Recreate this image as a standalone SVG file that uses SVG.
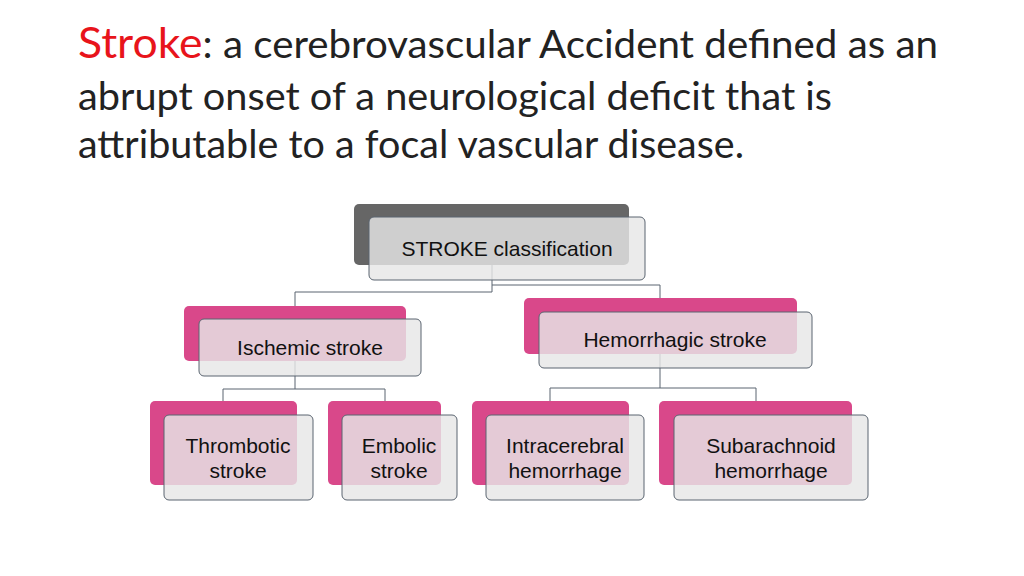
<svg xmlns="http://www.w3.org/2000/svg" width="1024" height="576" viewBox="0 0 1024 576">
<style>
.t{font-family:Lato,"Open Sans",sans-serif;font-size:38px;fill:#222}
.b{fill:#d9488a}
.f{fill:#e6e6e6;fill-opacity:0.82;stroke:#5a6470;stroke-width:1}
.l{font-family:"Liberation Sans",Arial,sans-serif;font-size:21px;fill:#111;text-anchor:middle}
.c{fill:none;stroke:#5a6470;stroke-width:1}
</style>
<rect width="1024" height="576" fill="#fff"/>
<text class="t" x="78" y="58" textLength="860" lengthAdjust="spacingAndGlyphs"><tspan fill="#e8141b" font-size="42">Stroke</tspan>: a cerebrovascular Accident defined as an</text>
<text class="t" x="78" y="110" textLength="754" lengthAdjust="spacingAndGlyphs">abrupt onset of  a neurological deficit that is</text>
<text class="t" x="78" y="158" textLength="666" lengthAdjust="spacingAndGlyphs">attributable to a focal vascular disease.</text>
<g id="connectors">
<path class="c" d="M492 265V292H295V306M492 285H660V298M295 361V389H223V401M295 389H385V401M660 354V388H550V401M660 388H756V401"/>
</g>
<g id="root"><rect x="354" y="204" width="275" height="61" rx="5" fill="#666"/><rect class="f" x="369" y="217" width="276" height="63" rx="5"/><text class="l" x="507" y="256">STROKE classification</text></g>
<g id="ischemic"><rect class="b" x="184" y="306" width="222" height="55" rx="5"/><rect class="f" x="199" y="319" width="222" height="57" rx="5"/><text class="l" x="310" y="355">Ischemic stroke</text></g>
<g id="hemorrhagic"><rect class="b" x="524" y="298" width="273" height="56" rx="5"/><rect class="f" x="539" y="312" width="273" height="56" rx="5"/><text class="l" x="675" y="347">Hemorrhagic stroke</text></g>
<g id="thrombotic"><rect class="b" x="150" y="401" width="147" height="84" rx="5"/><rect class="f" x="164" y="415" width="149" height="85" rx="5"/><text class="l" x="238" y="453">Thrombotic</text><text class="l" x="238" y="478">stroke</text></g>
<g id="embolic"><rect class="b" x="328" y="401" width="113" height="84" rx="5"/><rect class="f" x="342" y="415" width="115" height="85" rx="5"/><text class="l" x="399" y="453">Embolic</text><text class="l" x="399" y="478">stroke</text></g>
<g id="intracerebral"><rect class="b" x="472" y="401" width="157" height="84" rx="5"/><rect class="f" x="486" y="415" width="158" height="85" rx="5"/><text class="l" x="565" y="453">Intracerebral</text><text class="l" x="565" y="478">hemorrhage</text></g>
<g id="subarachnoid"><rect class="b" x="659" y="401" width="193" height="84" rx="5"/><rect class="f" x="674" y="415" width="194" height="85" rx="5"/><text class="l" x="771" y="453">Subarachnoid</text><text class="l" x="771" y="478">hemorrhage</text></g>
</svg>
